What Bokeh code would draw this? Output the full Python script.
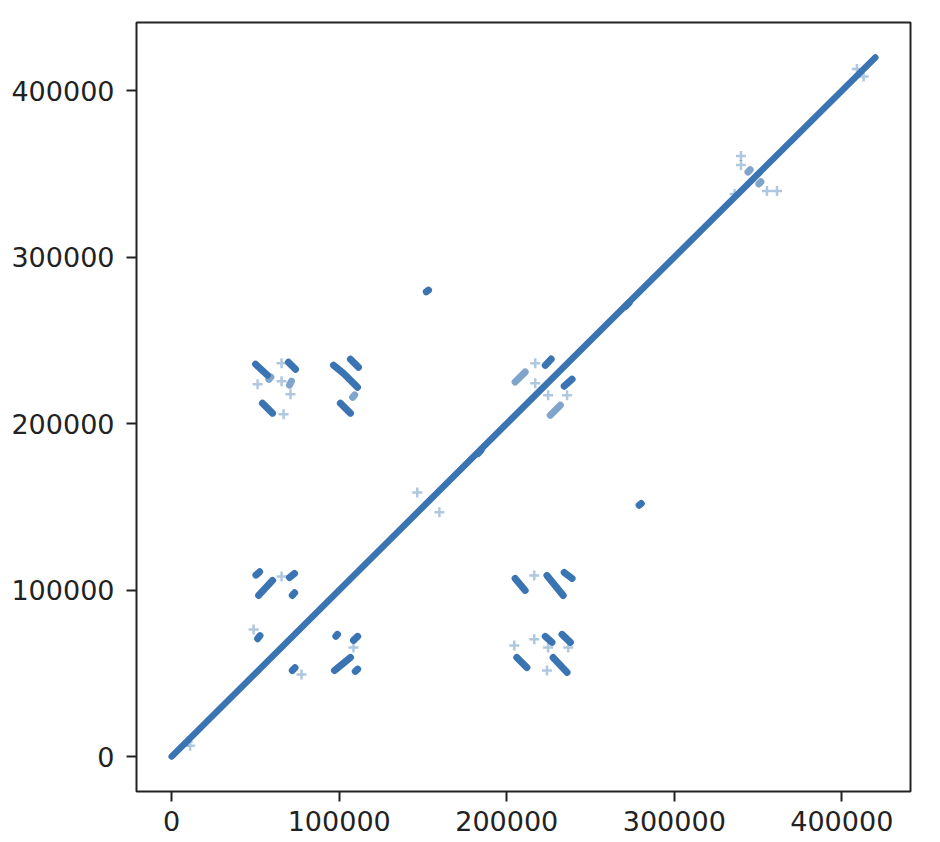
from bokeh.plotting import figure
from bokeh.models import Range1d, FixedTicker, BasicTickFormatter
from bokeh.embed import file_html
from bokeh.resources import INLINE

# Main self-alignment diagonal (bp)
diag_x0 = [0]
diag_y0 = [0]
diag_x1 = [420000]
diag_y1 = [420000]

# Strong repeat matches (segments, bp)
strong_x0 = [50100, 69700, 54200, 96600, 103700, 106700, 100700,
             223000, 234300,
             50300, 70300, 51900, 72000, 51300, 98000, 108500, 97200, 109600, 72000,
             205000, 224000, 234300, 223000, 233000, 206000, 227700,
             152000, 279000, 270800, 182800]
strong_y0 = [235700, 236900, 212300, 235100, 229100, 238700, 212300,
             235000, 222500,
             109000, 107600, 96800, 96800, 70800, 72200, 69800, 51700, 51200, 51700,
             107000, 108800, 110600, 72200, 73400, 59500, 59500,
             279200, 151000, 270300, 182000]
strong_x1 = [57200, 73900, 60200, 102500, 110900, 111500, 106700,
             226500, 239000,
             52500, 73300, 60200, 73400, 52700, 99000, 111000, 106700, 111000, 73600,
             211000, 233700, 239000, 227000, 238000, 212000, 236000,
             153300, 280300, 273000, 184600]
strong_y1 = [229100, 232700, 206300, 230300, 221900, 233900, 206300,
             238800, 226700,
             111000, 110000, 105800, 98400, 72600, 73400, 72200, 59500, 52500, 53300,
             99800, 96800, 107000, 68600, 68600, 53500, 50500,
             280200, 152000, 272600, 184000]

# Medium-strength matches (segments, bp)
medium_x0 = [58000, 70300, 108000, 205000, 226000, 344000, 350500]
medium_y0 = [226600, 223100, 215800, 225000, 205000, 351200, 344000]
medium_x1 = [59200, 71500, 109200, 211000, 232000, 345300, 351700]
medium_y1 = [228000, 225500, 217200, 231000, 211000, 352500, 345300]

# Weak isolated matches (points, bp)
weak_x = [65600, 65600, 51300, 70900, 66800,
          217000, 217000, 224700, 236000,
          65600, 48900, 108500, 77500,
          216400, 204500, 216400, 224700, 236700, 224000,
          339800, 339800, 355300, 361300,
          146600, 159800, 9500, 11000, 409000, 413000, 336000]
weak_y = [236300, 225500, 223700, 217700, 205700,
          236300, 224300, 217000, 217000,
          108200, 76400, 65500, 49300,
          108800, 66700, 70400, 65500, 65500, 51700,
          360800, 355400, 339700, 339700,
          158700, 146700, 9000, 6500, 413000, 408500, 338000]

x_ticks = [0, 100000, 200000, 300000, 400000]
y_ticks = [0, 100000, 200000, 300000, 400000]

BLUE = "#3a74b2"

p = figure(output_backend="svg", toolbar_location=None,
           frame_width=774, frame_height=769,
           min_border_left=136, min_border_right=20,
           min_border_top=22, min_border_bottom=48,
           x_range=Range1d(-21000, 441000), y_range=Range1d(-21000, 441000))

p.grid.visible = False
p.outline_line_color = "#222222"
p.outline_line_width = 2
p.background_fill_color = "white"
p.border_fill_color = "white"

for ax, ticks in ((p.xaxis, x_ticks), (p.yaxis, y_ticks)):
    ax.ticker = FixedTicker(ticks=ticks)
    ax.formatter = BasicTickFormatter(use_scientific=False)
    ax.axis_line_color = None
    ax.major_tick_line_color = "#222222"
    ax.major_tick_line_width = 2
    ax.major_tick_out = 10
    ax.major_tick_in = 0
    ax.minor_tick_line_color = None
    ax.major_label_text_font = "DejaVu Sans"
    ax.major_label_text_font_size = "27px"
    ax.major_label_text_color = "#222222"
p.xaxis.major_label_standoff = 9
p.yaxis.major_label_standoff = 12

# weak points
p.scatter(x=weak_x, y=weak_y, marker="cross", size=10, line_width=2.5,
          color=BLUE, alpha=0.4)

# medium segments
p.segment(x0=medium_x0, y0=medium_y0, x1=medium_x1, y1=medium_y1,
          line_color=BLUE, line_width=7, line_alpha=0.65, line_cap="round")

# strong segments
p.segment(x0=strong_x0, y0=strong_y0, x1=strong_x1, y1=strong_y1,
          line_color=BLUE, line_width=7, line_cap="round")

# main diagonal
p.segment(x0=diag_x0, y0=diag_y0, x1=diag_x1, y1=diag_y1,
          line_color=BLUE, line_width=6.5, line_cap="round")

open("out.html", "w").write(file_html(p, INLINE))
